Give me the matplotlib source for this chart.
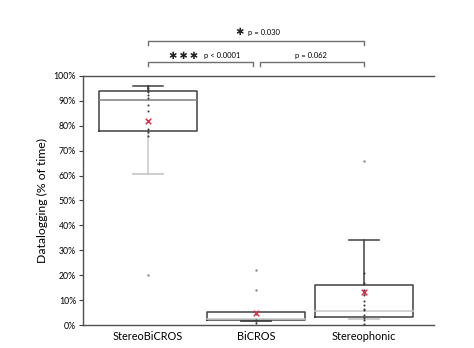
import matplotlib
matplotlib.use("Agg")
import matplotlib.pyplot as plt
from matplotlib.ticker import FuncFormatter, MultipleLocator

groups = ["StereoBiCROS", "BiCROS", "Stereophonic"]
q1 = [78, 2.2, 3.3]
med = [90.5, 2.6, 5.6]
q3 = [94, 5.1, 16]
whislo = [60.5, 1.5, 2.3]
whishi = [96, 5.1, 34]
means = [81.8, 4.8, 13.4]
inner_points = [
    [96, 95, 94.5, 93.5, 92.5, 91, 88.5, 86, 78.5, 77.5, 76],
    [5, 4.5, 2, 1.5, 1],
    [21, 17, 14, 13, 12, 9.5, 8, 6.5, 6, 4, 3, 2, 0.5],
]
outliers = [[20], [22, 14], [66]]

plt.rcParams['font.family'] = ['Lato', 'DejaVu Sans']
fig = plt.figure(figsize=(4.74, 3.48), dpi=100)
ax = fig.add_axes([0.175, 0.066, 0.741, 0.716])

dark = "#404040"
light = "#c8c8c8"
bw = 0.91
cw = 0.28
for i in range(3):
    ax.plot([i - bw/2, i + bw/2, i + bw/2, i - bw/2, i - bw/2],
            [q1[i], q1[i], q3[i], q3[i], q1[i]], color=dark, lw=1.1, zorder=2)
    ax.plot([i - bw/2, i + bw/2], [med[i], med[i]],
            color="#7f7f7f" if i == 0 else light, lw=1.1, zorder=2)
    if whishi[i] > q3[i]:
        ax.plot([i, i], [q3[i], whishi[i]], color=dark, lw=1.1, zorder=1)
        ax.plot([i - cw/2, i + cw/2], [whishi[i]] * 2, color=dark, lw=1.1)
    lc = dark if i == 1 else light
    ax.plot([i, i], [whislo[i], q1[i]], color=lc, lw=1.1, zorder=1)
    ax.plot([i - cw/2, i + cw/2], [whislo[i]] * 2, color=lc, lw=1.3)
    ax.scatter([i] * len(inner_points[i]), inner_points[i], s=2.2, color="#3a3a3a", zorder=3, linewidths=0)
    ax.scatter([i] * len(outliers[i]), outliers[i], s=3, color="#8a8a8a", zorder=3, linewidths=0)
    ax.scatter([i], [means[i]], marker="x", s=16, color="#d9324a", linewidths=1.1, zorder=4)

ax.set_xlim(-0.602, 2.648)
ax.set_ylim(0, 100)
ax.yaxis.set_major_locator(MultipleLocator(10))
ax.yaxis.set_major_formatter(FuncFormatter(lambda v, p: f"{int(v)}%"))
ax.set_xticks(range(3))
ax.set_xticklabels(groups, fontsize=7.8)
ax.tick_params(axis="x", length=0, pad=4)
ax.tick_params(axis="y", length=3, width=0.8, labelsize=6.3, color=dark, pad=2)
ax.spines["right"].set_visible(False)
for s in ["left", "bottom", "top"]:
    ax.spines[s].set_color("#505050")
    ax.spines[s].set_linewidth(1.0)
ax.set_ylabel("Datalogging (% of time)", fontsize=8.8, labelpad=4)

bc = "#707070"
def bracket(x0, x1, y, h=1.6):
    ax.plot([x0, x0, x1, x1], [y - h, y, y, y - h], color=bc, lw=1.0, clip_on=False)

bracket(0, 0.97, 105.6)
bracket(1.04, 2, 105.6)
bracket(0, 2, 114)
star_kw = dict(family=['DejaVu Sans'], fontsize=7.2, color="#222222", ha="center", va="center", clip_on=False)
ax.text(0.33, 108.0, "\u2731\u2009\u2731\u2009\u2731", **star_kw)
ax.text(0.69, 108.0, "p < 0.0001", fontsize=5.5, ha="center", va="center", clip_on=False)
ax.text(1.51, 108.0, "p = 0.062", fontsize=5.5, ha="center", va="center", clip_on=False)
ax.text(0.85, 117.5, "\u2731", **star_kw)
ax.text(1.075, 117.5, "p = 0.030", fontsize=5.5, ha="center", va="center", clip_on=False)

fig.savefig("out.png", dpi=100)
